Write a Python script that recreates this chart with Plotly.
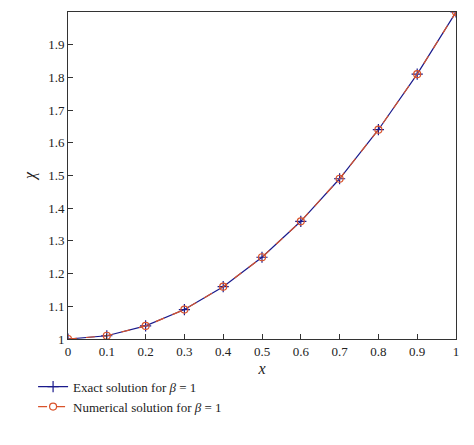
import plotly.graph_objects as go

x = [0, 0.1, 0.2, 0.3, 0.4, 0.5, 0.6, 0.7, 0.8, 0.9, 1.0]
exact = [1.0, 1.01, 1.04, 1.09, 1.16, 1.25, 1.36, 1.49, 1.64, 1.81, 2.0]
numerical = [1.0, 1.01, 1.04, 1.09, 1.16, 1.25, 1.36, 1.49, 1.64, 1.81, 2.0]

fig = go.Figure()
fig.add_trace(go.Scatter(x=x, y=exact, mode="lines+markers", name="Exact solution for <i>β</i> = 1",
                         line=dict(color="#1a1a8c", width=1.2),
                         marker=dict(symbol="cross-thin", size=8, line=dict(color="#1a1a8c", width=1.2))))
fig.add_trace(go.Scatter(x=x, y=numerical, mode="lines+markers", name="Numerical solution for <i>β</i> = 1",
                         line=dict(color="#d9532b", width=1.2, dash="dash"),
                         marker=dict(symbol="circle-open", size=7, color="#d9532b", line=dict(width=1.2))))

ax = dict(showgrid=False, zeroline=False, mirror=True, showline=True, linecolor="#333",
          linewidth=1, ticks="inside", ticklen=5, tickcolor="#333")
fig.update_layout(
    width=474, height=445, plot_bgcolor="white", paper_bgcolor="white",
    margin=dict(l=60, r=26, t=4, b=114),
    font=dict(family="Liberation Serif, Times New Roman, serif", size=13, color="#222"),
    xaxis=dict(range=[0, 1], dtick=0.1, title=dict(text="<i>x</i>", standoff=5), **ax),
    yaxis=dict(range=[1, 2], dtick=0.1, title=dict(text="<i>χ</i>", standoff=8), **ax),
    legend=dict(x=-0.09, y=-0.1, xanchor="left", yanchor="top", bgcolor="rgba(0,0,0,0)",
                font=dict(size=13), tracegroupgap=8),
    showlegend=True,
)
fig.write_html("out.html")
